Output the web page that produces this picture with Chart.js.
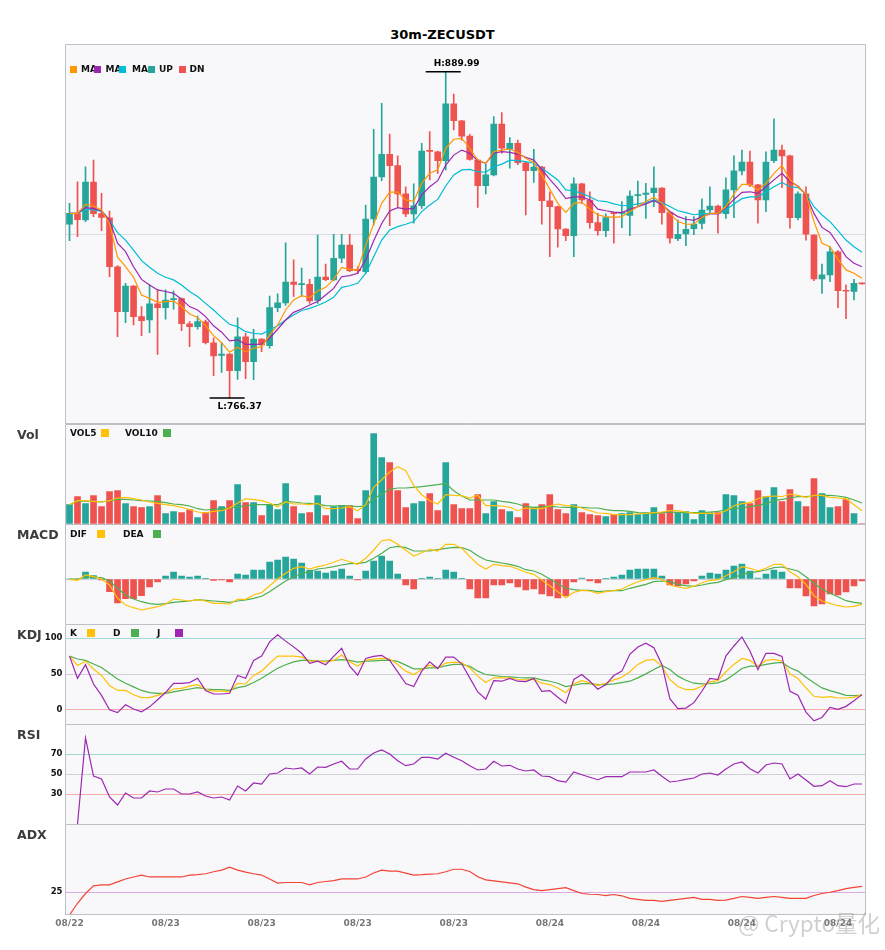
<!DOCTYPE html>
<html>
<head>
<meta charset="utf-8">
<title>30m-ZECUSDT</title>
<script src="https://cdn.jsdelivr.net/npm/chart.js@4.4.1/dist/chart.umd.min.js"></script>
<style>
  html, body { margin: 0; padding: 0; background: #fff; }
  body { position: relative; width: 885px; height: 950px; overflow: hidden; font-family: "DejaVu Sans", sans-serif; }
  canvas { position: absolute; left: 0; }
  #title { position: absolute; left: 0; top: 28px; width: 885px; text-align: center; font-size: 13px; font-weight: bold; line-height: 1; color: #000; }
  .txt { position: absolute; white-space: nowrap; font-weight: bold; line-height: 1; }
  .panel { font-size: 12.5px; color: #3c3c3c; }
  .leg { font-size: 9px; color: #111; }
  .sq { position: absolute; }
  #mark { position: absolute; left: 738px; top: 911px; font-family: "Noto Sans CJK SC", sans-serif; font-size: 22.5px; line-height: 1; color: rgba(150,150,150,0.45); white-space: nowrap; }
</style>
</head>
<body>
<div id="title">30m-ZECUSDT</div>
<canvas id="cMain" width="885" height="380" style="top:44px;width:885px;height:380px"></canvas>
<canvas id="cVol" width="885" height="100" style="top:424px;width:885px;height:100px"></canvas>
<canvas id="cMacd" width="885" height="100" style="top:524px;width:885px;height:100px"></canvas>
<canvas id="cKdj" width="885" height="100" style="top:624px;width:885px;height:100px"></canvas>
<canvas id="cRsi" width="885" height="100" style="top:724px;width:885px;height:100px"></canvas>
<canvas id="cAdx" width="885" height="108" style="top:824px;width:885px;height:108px"></canvas>
<div id="overlay"></div>
<div id="mark">@ Crypto量化</div>
<script>
// ---- data (30m candles) ----
const tickLabels = ['08/22', '08/23', '08/23', '08/23', '08/23', '08/24', '08/24', '08/24', '08/24'];
const tickStep = 12;

const open = [832.2, 836.2, 833.8, 848.2, 836.2, 834.6, 816.1, 799.1, 808.8, 797.2,
  795.9, 802.0, 800.6, 803.6, 804.0, 794.5, 793.4, 795.2, 787.3, 782.5,
  783.0, 776.7, 789.5, 780.1, 788.7, 786.2, 800.6, 802.4, 810.3, 809.3,
  809.4, 803.3, 812.2, 811.1, 819.3, 824.3, 815.1, 814.2, 834.2, 850.1,
  858.7, 854.4, 843.7, 836.1, 839.2, 860.1, 859.6, 856.3, 877.8, 871.4,
  865.6, 856.5, 846.8, 850.9, 870.2, 860.6, 862.9, 855.5, 852.5, 853.9,
  841.1, 838.9, 830.4, 827.9, 847.5, 841.4, 832.8, 829.8, 836.5, 836.3,
  835.5, 843.0, 843.5, 844.2, 845.9, 836.6, 826.7, 828.5, 830.5, 832.5,
  837.6, 839.1, 836.2, 845.2, 852.4, 855.8, 847.1, 841.4, 856.3, 860.3,
  858.1, 834.7, 843.7, 828.1, 811.5, 813.0, 821.7, 807.0, 806.7, 809.8];
const high = [840.1, 848.3, 854.0, 856.5, 843.9, 837.2, 816.5, 809.8, 809.0, 801.0,
  809.2, 807.3, 807.3, 807.0, 804.2, 795.3, 797.4, 795.9, 789.2, 787.3,
  783.2, 796.7, 790.9, 792.4, 788.9, 805.0, 805.8, 825.2, 818.7, 815.6,
  811.3, 828.1, 817.1, 828.4, 828.4, 828.4, 816.1, 839.5, 868.2, 878.0,
  866.4, 858.1, 846.4, 847.5, 862.9, 867.3, 859.9, 889.99, 881.5, 871.6,
  866.3, 856.7, 854.9, 873.0, 874.5, 865.0, 864.1, 855.7, 860.6, 854.1,
  844.5, 839.1, 830.6, 849.8, 847.7, 844.5, 836.3, 836.1, 836.6, 840.8,
  844.9, 848.6, 847.7, 854.0, 846.1, 836.8, 833.8, 835.1, 835.1, 841.8,
  846.4, 839.5, 849.8, 858.1, 860.3, 859.9, 847.3, 859.6, 872.1, 862.2,
  858.4, 844.5, 846.4, 828.3, 817.1, 823.7, 822.2, 809.2, 811.3, 809.9];
const low = [826.0, 827.5, 833.2, 835.1, 829.8, 812.3, 789.6, 794.9, 794.0, 790.0,
  791.1, 782.9, 796.2, 800.0, 791.9, 785.8, 792.4, 786.8, 774.8, 776.0,
  766.37, 773.4, 773.7, 773.3, 783.9, 785.2, 799.1, 801.4, 804.8, 804.8,
  802.2, 802.2, 810.8, 810.8, 817.6, 814.2, 813.6, 813.6, 831.9, 848.7,
  831.7, 838.9, 835.1, 832.6, 838.2, 849.0, 851.5, 852.8, 867.9, 864.1,
  856.5, 838.6, 843.7, 850.5, 859.1, 853.4, 854.8, 835.7, 848.0, 832.2,
  819.9, 823.5, 826.0, 819.9, 840.1, 830.7, 828.1, 827.5, 825.0, 830.9,
  827.9, 838.9, 834.4, 838.9, 832.2, 825.0, 826.0, 824.1, 828.2, 830.4,
  836.6, 828.8, 834.4, 834.7, 850.9, 846.4, 832.6, 837.0, 855.5, 846.1,
  830.7, 833.8, 826.2, 810.8, 806.0, 810.4, 800.6, 796.4, 803.5, 809.5];
const close = [836.3, 833.9, 848.2, 836.2, 834.8, 816.1, 799.1, 808.8, 797.2, 795.7,
  802.0, 800.6, 803.5, 804.0, 794.5, 793.4, 795.3, 787.3, 782.3, 783.0,
  776.7, 789.5, 780.1, 788.7, 786.5, 800.6, 802.4, 810.3, 809.4, 809.6,
  803.1, 812.2, 811.2, 819.3, 824.3, 814.6, 814.6, 834.2, 850.1, 858.7,
  854.4, 843.7, 836.1, 839.2, 859.9, 859.8, 856.3, 877.8, 871.4, 865.6,
  856.8, 846.8, 850.9, 870.2, 861.0, 862.9, 855.5, 852.5, 853.9, 841.1,
  838.9, 830.4, 827.9, 847.5, 841.4, 832.8, 829.8, 834.7, 836.2, 836.7,
  842.9, 843.4, 844.0, 845.9, 836.6, 826.9, 828.4, 830.3, 832.3, 837.6,
  839.1, 836.3, 845.2, 852.4, 855.8, 847.1, 841.4, 855.8, 860.3, 858.1,
  834.7, 843.7, 828.4, 811.5, 813.0, 821.7, 807.0, 806.8, 809.8, 809.6];

const ma5 = [836.3, 836.3, 839.7, 839.1, 837.6, 832.5, 819.7, 816.1, 812.1, 805.4,
  804.1, 802.6, 802.9, 803.1, 801.0, 798.2, 796.9, 793.8, 790.0, 787.3,
  783.7, 785.6, 783.9, 785.2, 785.8, 790.2, 794.0, 799.7, 803.5, 805.1,
  804.4, 806.9, 808.3, 811.3, 815.8, 815.1, 814.9, 824.3, 832.2, 840.1,
  844.4, 844.4, 841.4, 840.9, 847.7, 851.5, 852.8, 861.0, 864.4, 864.7,
  861.0, 856.5, 855.3, 859.7, 860.3, 860.7, 859.4, 857.2, 855.5, 850.9,
  845.4, 840.1, 836.7, 840.1, 840.5, 838.0, 835.7, 835.1, 834.8, 835.1,
  837.0, 838.9, 840.8, 842.4, 840.1, 836.3, 833.2, 832.2, 832.2, 834.8,
  836.3, 836.3, 838.9, 843.7, 847.3, 847.3, 845.2, 847.7, 851.5, 854.5,
  849.0, 846.4, 843.7, 833.2, 825.0, 823.7, 818.9, 814.9, 813.6, 811.7];
const ma10 = [836.3, 836.3, 838.5, 838.1, 837.3, 833.8, 825.0, 821.8, 816.1, 811.3,
  809.2, 807.3, 806.7, 806.0, 803.8, 801.0, 799.7, 797.2, 793.7, 791.3,
  788.0, 788.4, 786.7, 786.7, 786.8, 789.0, 792.4, 795.9, 798.8, 800.1,
  801.6, 802.9, 805.4, 807.9, 812.3, 812.7, 813.6, 818.7, 825.9, 832.5,
  837.2, 838.5, 837.9, 838.2, 843.3, 846.4, 848.7, 854.6, 858.4, 860.3,
  859.1, 856.3, 855.3, 859.1, 859.7, 859.4, 858.8, 857.6, 856.5, 853.0,
  849.2, 845.8, 841.9, 842.6, 842.6, 841.4, 837.9, 837.3, 836.8, 836.6,
  837.9, 838.9, 839.9, 841.1, 839.7, 837.0, 835.1, 834.1, 833.7, 835.1,
  836.1, 836.1, 838.5, 841.6, 844.3, 844.5, 843.9, 846.4, 849.0, 851.5,
  848.3, 846.7, 843.3, 836.3, 831.0, 829.1, 824.7, 819.9, 817.4, 816.1];
const ma20 = [836.3, 836.3, 837.9, 837.6, 837.1, 833.8, 829.0, 826.2, 822.4, 818.4,
  815.9, 813.6, 812.1, 811.1, 809.2, 806.7, 804.8, 802.2, 799.7, 796.9,
  794.3, 793.4, 791.5, 790.9, 790.6, 792.1, 793.7, 795.9, 797.8, 799.5,
  800.3, 801.4, 802.7, 804.5, 808.3, 808.9, 809.8, 813.6, 819.9, 826.2,
  830.0, 831.3, 832.2, 833.2, 837.0, 839.5, 841.6, 846.7, 850.9, 852.8,
  853.0, 852.1, 851.9, 854.0, 855.0, 856.5, 856.3, 855.9, 855.3, 853.4,
  851.2, 849.0, 845.2, 844.9, 843.9, 842.6, 841.1, 840.8, 839.9, 839.2,
  839.4, 839.9, 840.4, 841.4, 840.4, 838.9, 837.3, 836.6, 835.8, 836.1,
  836.3, 836.3, 837.6, 839.9, 841.9, 842.6, 842.6, 844.5, 846.4, 848.0,
  846.4, 846.1, 843.7, 838.9, 835.7, 833.2, 829.8, 826.2, 823.7, 821.6];

const vol = [19.3, 27.3, 20.3, 28.3, 17.3, 32.3, 33.3, 20.3, 17.3, 16.3,
  17.3, 28.3, 10.3, 12.3, 11.3, 14.3, 6.3, 11.3, 23.3, 17.3,
  23.3, 39.3, 21.3, 21.3, 8.3, 19.3, 14.3, 40.3, 17.3, 10.3,
  11.3, 28.3, 8.5, 17.3, 18.3, 18.3, 5.3, 33.3, 90.3, 66.3,
  61.3, 33.3, 16.3, 20.3, 22.3, 30.3, 13.3, 61.3, 19.3, 15.3,
  15.3, 29.3, 10.3, 22.3, 14.3, 12.3, 6.3, 20.3, 16.3, 19.3,
  29.3, 14.3, 10.3, 19.3, 11.3, 9.3, 8.3, 7.3, 9.3, 10.3,
  11.3, 9.3, 11.3, 16.3, 10.3, 19.3, 11.3, 12.3, 4.3, 13.3,
  11.3, 11.3, 29.3, 28.3, 22.3, 20.3, 33.3, 27.3, 36.3, 22.3,
  34.3, 22.3, 17.3, 45.3, 30.3, 16.3, 17.3, 24.3, 10.3, 0.5];
const vol5 = [19.3, 23.3, 23.3, 22.7, 22.0, 23.3, 26.0, 26.7, 25.3, 24.0,
  22.0, 20.7, 19.3, 18.3, 16.7, 14.3, 12.0, 11.0, 12.7, 13.3,
  16.0, 21.0, 25.3, 24.3, 23.3, 21.0, 17.3, 22.0, 20.0, 20.0,
  19.3, 20.7, 15.3, 15.3, 16.0, 17.3, 13.3, 19.3, 36.7, 44.3,
  52.0, 57.3, 53.3, 38.7, 29.3, 23.3, 20.0, 29.3, 28.7, 28.3,
  26.0, 28.7, 18.3, 18.3, 18.0, 16.7, 13.3, 16.0, 15.3, 15.3,
  18.0, 20.0, 18.3, 18.0, 16.0, 13.3, 11.0, 10.7, 9.3, 9.3,
  9.3, 10.0, 10.7, 11.3, 12.0, 13.3, 13.3, 12.0, 10.7, 10.7,
  10.7, 10.0, 13.3, 18.3, 20.3, 21.3, 25.3, 27.3, 28.0, 27.3,
  30.0, 28.7, 26.7, 28.7, 28.7, 26.7, 26.0, 25.3, 19.3, 13.3];
const vol10 = [19.3, 22.7, 23.0, 22.7, 22.0, 23.3, 24.7, 24.7, 24.0, 23.3,
  23.0, 22.7, 21.3, 20.0, 19.3, 18.0, 15.3, 14.0, 14.7, 15.3,
  16.0, 17.3, 18.0, 19.3, 19.3, 19.3, 19.3, 22.7, 22.0, 21.0,
  20.7, 20.0, 18.3, 18.0, 18.3, 18.0, 17.3, 18.0, 25.3, 30.0,
  34.7, 36.0, 36.0, 36.7, 37.3, 38.3, 39.3, 40.7, 33.3, 28.0,
  24.0, 24.0, 24.0, 24.0, 22.7, 21.7, 20.0, 17.3, 16.7, 17.3,
  17.7, 17.0, 16.7, 16.7, 16.7, 16.0, 16.0, 14.3, 13.3, 13.3,
  12.7, 11.3, 10.7, 10.7, 11.3, 12.0, 11.7, 11.3, 11.3, 11.3,
  12.0, 12.7, 14.0, 15.3, 16.0, 17.3, 18.7, 20.3, 23.3, 24.7,
  26.0, 27.3, 27.3, 28.0, 28.7, 28.7, 28.0, 26.7, 24.0, 21.0];

const macd = [0, 0, 7, 3.3, -1, -12.7, -24, -19.7, -19.7, -16.7,
  -8, -3, 3, 7, 3, 2, 3, 0.3, -1.3, -1,
  -3, 5, 4, 9, 9, 17, 19, 22, 20, 16,
  9, 8, 6, 8, 10, 3, -1, 8, 18, 23,
  18, 5, -6, -10, 0.3, 2, 0.3, 9, 7, 0.3,
  -10, -19, -19, -6, -6, -4, -8, -11, -10, -15,
  -17, -19, -17, -3, 1, -2, -4, 0.3, 2, 4,
  9, 10, 10, 10, 3, -6, -7, -5, -2, 3,
  6, 5, 9, 13, 15, 8, 1, 5, 9, 7,
  -9, -9, -17, -27, -25, -15, -16, -13, -7, -2];
const dif = [-0.3, -1.3, 4.0, 2.3, 0, -6.0, -19.3, -26.0, -28.7, -31.0,
  -29.3, -27.7, -25.3, -20.0, -21.0, -22.0, -20.7, -22.0, -24.3, -24.3,
  -25.0, -20.3, -20.3, -16.0, -13.7, -6.7, 0, 5.7, 10.7, 12.3,
  10.0, 12.3, 14.0, 16.7, 19.7, 17.3, 14.7, 20.7, 29.0, 38.3,
  39.3, 34.7, 28.7, 23.0, 26.3, 29.7, 28.0, 34.7, 34.7, 30.7,
  22.3, 14.7, 10.0, 14.7, 13.3, 12.7, 10.0, 6.7, 4.7, -1.0,
  -6.7, -12.7, -18.7, -13.3, -11.3, -12.0, -14.3, -12.7, -11.7, -10.0,
  -6.0, -2.7, -0.7, 1.3, 0, -6.0, -8.0, -9.3, -7.3, -3.7,
  -1.3, -0.7, 3.3, 7.3, 12.3, 10.7, 8.3, 10.7, 14.7, 14.7,
  7.3, 2.3, -5.3, -16.7, -22.0, -24.3, -26.7, -28.0, -27.3, -25.3];
const dea = [0, 0, 2.0, 1.7, 1.3, -2.0, -9.3, -16.0, -20.0, -22.7,
  -24.7, -25.3, -24.7, -23.3, -22.7, -22.0, -20.7, -21.3, -22.0, -22.7,
  -23.3, -22.0, -21.0, -19.3, -17.3, -12.7, -7.3, -2.0, 2.3, 5.7,
  7.3, 10.0, 11.0, 12.3, 14.0, 15.3, 15.7, 16.7, 20.7, 25.7,
  31.3, 32.7, 31.3, 28.0, 28.0, 28.0, 29.3, 30.7, 31.7, 31.3,
  28.7, 23.3, 19.0, 17.3, 16.0, 14.7, 12.7, 9.3, 8.0, 4.7,
  0, -4.7, -9.3, -10.7, -11.3, -11.3, -12.7, -12.0, -11.7, -11.7,
  -9.3, -7.3, -5.3, -2.7, -2.0, -2.7, -5.3, -6.7, -7.3, -6.0,
  -4.3, -3.3, -0.7, 1.3, 4.7, 6.3, 7.3, 9.0, 11.3, 12.0,
  10.0, 8.0, 2.3, -4.3, -10.0, -14.3, -17.7, -21.7, -23.3, -24.3];

const kLine = [75, 62, 68, 57, 48, 34, 27, 27, 21, 17,
  17, 20, 24, 29, 30, 33, 35, 28, 26, 26,
  25, 37, 36, 48, 54, 65, 75, 75, 75, 74,
  68, 68, 67, 69.0, 76.5, 67.1, 61.0, 69.0, 70.9, 71.8,
  70.9, 63.4, 54.0, 49.3, 56.3, 62.4, 58.7, 65.3, 66.7, 65.7,
  58.7, 47.0, 38.0, 44.6, 44.6, 44.6, 42.3, 41.8, 42.7, 37.1,
  35.2, 30.5, 23.9, 36.2, 40.8, 37.6, 34.0, 37.1, 41.8, 45.5,
  53.1, 63.4, 69.0, 70.4, 61.0, 42.3, 32.4, 28.2, 28.2, 32.9,
  39.0, 40.8, 53.1, 63.4, 71.8, 69.0, 61.0, 69.0, 70.4, 68.1,
  50.2, 43.7, 30.5, 18.8, 17.4, 18.3, 16.4, 16.4, 17.4, 21.1];
const dLine = [75, 71, 69, 64, 59, 51, 43, 37, 32, 27,
  24, 23, 23, 25, 27, 29, 31, 29, 28, 28,
  27, 31, 33, 38, 44, 51, 58, 63, 67, 69,
  69, 68, 68, 69.0, 70.0, 69.0, 66.7, 68.1, 68.5, 69.0,
  69.0, 67.6, 62.4, 57.3, 57.3, 58.7, 58.7, 61.5, 63.4, 63.4,
  60.6, 54.0, 49.3, 47.9, 46.5, 46.0, 45.1, 44.6, 44.6, 41.8,
  39.9, 37.1, 32.4, 34.3, 36.6, 36.6, 35.2, 35.2, 36.2, 38.0,
  39.9, 44.6, 50.2, 56.3, 62.0, 56.3, 47.0, 41.3, 37.1, 36.2,
  36.6, 37.6, 41.8, 49.3, 57.7, 61.0, 61.0, 63.4, 65.3, 66.2,
  58.7, 54.0, 45.5, 37.6, 30.5, 26.8, 23.5, 20.2, 19.7, 20.2];
const jLine = [75, 44, 63, 36, 20, 0, -4, 7, 1, -3,
  4, 14, 24, 37, 37, 38, 44, 27, 22, 22,
  23, 48, 44, 69, 75, 95, 105, 96, 88, 79,
  65, 68, 63, 74.7, 85.9, 61.0, 48.4, 71.8, 74.7, 76.1,
  69.0, 53.1, 36.6, 32.4, 54.0, 67.1, 57.7, 73.7, 73.7, 64.3,
  44.6, 24.9, 14.6, 40.8, 39.9, 43.7, 39.9, 39.4, 43.7, 25.8,
  26.8, 17.4, 8.9, 42.3, 49.3, 39.9, 28.6, 35.2, 47.9, 54.0,
  77.5, 87.8, 93.0, 86.9, 63.4, 15.5, 1.4, 2.3, 9.9, 25.8,
  43.7, 42.3, 75.1, 89.2, 101.9, 82.2, 56.3, 78.9, 78.9, 74.7,
  25.8, 20.2, -3.3, -15.5, -10.8, 3.3, 0.5, 4.7, 12.7, 21.1];

const rsi = [null, 0, 86, 48, 45, 27, 19, 31, 26, 26,
  33, 32, 35, 35, 30, 30, 32, 28, 26, 27,
  24, 38, 33, 41, 40, 50, 51, 56, 55, 56,
  50, 57, 56.7, 60, 62.7, 55, 55, 65, 71, 74,
  70, 63.3, 58.3, 60, 66.7, 66.7, 65, 70.7, 66.7, 63.3,
  58.3, 54, 55, 62.7, 58, 58.7, 55, 53, 54, 48,
  47.3, 43.3, 42, 52, 49.3, 46.7, 44.3, 47.3, 47.3, 47.3,
  52, 52, 52, 54, 47.7, 42, 43, 44.7, 46, 50,
  51, 49, 55, 60, 62, 55.3, 51, 59, 61, 60,
  45, 50, 44, 37.7, 38.3, 43.3, 38.3, 37.3, 40, 40];
const adx = [0, 12.9, 23.6, 32.1, 33.2, 33.2, 36.4, 39.6, 41.8, 43.9,
  41.8, 41.8, 41.8, 41.8, 41.8, 43.9, 44.3, 45.3, 47.5, 49.3,
  52.5, 49.3, 47.1, 45.3, 43.9, 39.6, 35.0, 35.7, 35.7, 35.7,
  33.2, 35.7, 36.8, 37.8, 39.6, 39.6, 39.6, 41.8, 46.1, 49.3,
  48.2, 48.2, 46.1, 43.9, 44.3, 45.0, 45.3, 47.5, 50.3, 50.3,
  47.8, 42.1, 38.6, 37.5, 36.4, 35.3, 34.3, 30.7, 27.9, 26.8,
  27.9, 28.9, 30.0, 26.8, 23.6, 22.8, 22.5, 21.4, 22.5, 21.1,
  18.2, 17.1, 16.1, 16.1, 15.0, 16.1, 17.1, 18.2, 19.3, 17.1,
  17.1, 16.1, 16.4, 18.2, 20.3, 19.3, 18.2, 19.3, 20.3, 19.3,
  18.2, 18.2, 18.2, 21.4, 23.6, 25.0, 26.8, 28.9, 30.3, 31.4];

// ---- styling ----
const FONT = '"DejaVu Sans", sans-serif';
const UP = '#26a69a', DN = '#ef5350';
const C_MA5 = '#ff9800', C_MA10 = '#9c27b0', C_MA20 = '#00bcd4';
const C_YEL = '#ffc107', C_GRN = '#4caf50', C_PUR = '#9c27b0', C_ADX = '#f44336';
const L_TEAL = '#9fd8d4', L_GREY = '#cfcfd5', L_PINK = '#f6abab', L_LILAC = '#dcaae6';

Chart.defaults.font.family = FONT;

const cats = close.map((_, i) => i);
const dirColor = close.map((c, i) => c >= open[i] ? UP : DN);

const framePlugin = {
  id: 'frame',
  beforeDraw(chart) {
    const a = chart.chartArea, ctx = chart.ctx;
    ctx.save();
    ctx.fillStyle = '#f8f8fa';
    ctx.fillRect(a.left, a.top, a.right - a.left, a.bottom - a.top);
    ctx.restore();
  },
  afterDraw(chart, args, opts) {
    const a = chart.chartArea, ctx = chart.ctx;
    ctx.save();
    ctx.strokeStyle = '#bfbfc7';
    ctx.lineWidth = 1;
    ctx.beginPath();
    if (opts.bottom) {
      ctx.moveTo(a.left, a.bottom - 0.5);
      ctx.lineTo(a.right - 0.5, a.bottom - 0.5);
    }
    ctx.moveTo(a.left, a.bottom);
    ctx.lineTo(a.left, a.top + 0.5);
    ctx.lineTo(a.right - 0.5, a.top + 0.5);
    ctx.lineTo(a.right - 0.5, a.bottom);
    ctx.stroke();
    ctx.restore();
  }
};

// H / L markers on the price panel
const hlPlugin = {
  id: 'hl',
  afterDatasetsDraw(chart) {
    const { ctx, scales: { x, y } } = chart;
    const hi = high.indexOf(Math.max(...high));
    const lo = low.indexOf(Math.min(...low));
    ctx.save();
    ctx.strokeStyle = '#000';
    ctx.fillStyle = '#000';
    ctx.lineWidth = 1.5;
    ctx.font = 'bold 9px ' + FONT;
    [[hi, high[hi], 'H:', -1], [lo, low[lo], 'L:', 1]].forEach(([i, v, p, s]) => {
      const px = x.getPixelForValue(i), py = y.getPixelForValue(v);
      ctx.beginPath();
      ctx.moveTo(px - 20, py);
      ctx.lineTo(px + 15, py);
      ctx.stroke();
      ctx.textBaseline = s < 0 ? 'bottom' : 'top';
      ctx.fillText(p + v.toFixed(2), px - 12, py + s * 4);
    });
    ctx.restore();
  }
};

function panelOptions(cfg) {
  const x = {
    type: 'category', offset: true, display: !!cfg.showX,
    grid: { display: false, drawTicks: false }, border: { display: false },
    ticks: {
      autoSkip: false, maxRotation: 0, padding: 3, color: '#777',
      font: { size: 9, weight: 'bold' },
      callback: (v, i) => i % tickStep === 0 ? tickLabels[i / tickStep] : ''
    }
  };
  if (cfg.showX) x.afterFit = s => { s.height = 17; };
  return {
    responsive: false,
    animation: false,
    events: [],
    layout: { padding: { left: 0, right: 19, top: 0, bottom: 0 } },
    plugins: { legend: { display: false }, tooltip: { enabled: false }, frame: { bottom: !!cfg.bottom } },
    scales: {
      x,
      y: {
        min: cfg.min, max: cfg.max,
        border: { display: false },
        grid: { drawTicks: false, lineWidth: 1, color: c => (cfg.lines.find(l => l[0] === c.tick.value) || [0, 'transparent'])[1] },
        ticks: { display: !!cfg.showY, padding: 3, color: '#111', font: { size: 8.5, weight: 'bold' } },
        afterBuildTicks: s => { s.ticks = cfg.lines.map(l => ({ value: l[0] })); },
        afterFit: s => { s.width = 65.5; s.paddingTop = 0; s.paddingBottom = 0; }
      }
    }
  };
}

function line(label, data, color, order) {
  return { type: 'line', label, data, borderColor: color, backgroundColor: color, borderWidth: 1.2,
    pointRadius: 0, tension: 0, fill: false, order, spanGaps: true };
}

// price panel
const yMin = 756.5, yMax = 900.5;
new Chart(document.getElementById('cMain'), {
  data: {
    labels: cats,
    datasets: [
      line('MA5', ma5, C_MA5, 0),
      line('MA10', ma10, C_MA10, 1),
      line('MA20', ma20, C_MA20, 2),
      { type: 'bar', label: 'body', data: open.map((o, i) => [o, close[i]]), backgroundColor: dirColor,
        barThickness: 6, minBarLength: 1, grouped: false, order: 3 },
      { type: 'bar', label: 'wick', data: low.map((l, i) => [l, high[i]]), backgroundColor: dirColor,
        barThickness: 1, grouped: false, order: 4 }
    ]
  },
  options: panelOptions({ min: yMin, max: yMax, lines: [[(yMin + yMax) / 2, '#dcdce0']], bottom: true }),
  plugins: [framePlugin, hlPlugin]
});

// volume
new Chart(document.getElementById('cVol'), {
  data: {
    labels: cats,
    datasets: [
      line('VOL5', vol5, C_YEL, 0),
      line('VOL10', vol10, C_GRN, 1),
      { type: 'bar', label: 'Vol', data: vol, backgroundColor: dirColor, barThickness: 6, grouped: false, order: 2 }
    ]
  },
  options: panelOptions({ min: 0, max: 100, lines: [[0, 'transparent']] }),
  plugins: [framePlugin]
});

// MACD
new Chart(document.getElementById('cMacd'), {
  data: {
    labels: cats,
    datasets: [
      line('DIF', dif, C_YEL, 0),
      line('DEA', dea, C_GRN, 1),
      { type: 'bar', label: 'MACD', data: macd, backgroundColor: macd.map(v => v >= 0 ? UP : DN),
        barThickness: 6, grouped: false, order: 2 }
    ]
  },
  options: panelOptions({ min: -45, max: 55, lines: [[0, L_GREY]] }),
  plugins: [framePlugin]
});

// KDJ
new Chart(document.getElementById('cKdj'), {
  data: {
    labels: cats,
    datasets: [line('J', jLine, C_PUR, 0), line('K', kLine, C_YEL, 1), line('D', dLine, C_GRN, 2)]
  },
  options: panelOptions({ min: -20, max: 120, showY: true, lines: [[0, L_PINK], [50, L_GREY], [100, L_TEAL]] }),
  plugins: [framePlugin]
});

// RSI
new Chart(document.getElementById('cRsi'), {
  data: { labels: cats, datasets: [line('RSI', rsi, C_PUR, 0)] },
  options: panelOptions({ min: 0, max: 100, showY: true, lines: [[30, L_PINK], [50, L_GREY], [70, L_TEAL]] }),
  plugins: [framePlugin]
});

// ADX
new Chart(document.getElementById('cAdx'), {
  data: { labels: cats, datasets: [line('ADX', adx, C_ADX, 0)] },
  options: panelOptions({ min: 0, max: 100, showY: true, showX: true, bottom: true, lines: [[25, L_LILAC]] }),
  plugins: [framePlugin]
});

// ---- panel names and legends ----
const overlay = document.getElementById('overlay');
function addText(text, left, top, cls) {
  const d = document.createElement('div');
  d.className = 'txt ' + cls;
  d.textContent = text;
  d.style.left = left + 'px';
  d.style.top = top + 'px';
  overlay.appendChild(d);
}
function addSquare(color, left, top, size) {
  const d = document.createElement('div');
  d.className = 'sq';
  Object.assign(d.style, { left: left + 'px', top: top + 'px', width: size + 'px', height: size + 'px', background: color });
  overlay.appendChild(d);
}

[['Vol', 429], ['MACD', 529], ['KDJ', 629.3], ['RSI', 729.3], ['ADX', 829]].forEach(([t, y]) => addText(t, 17, y, 'panel'));

// price legend (labels partly covered by the next swatch, as in the original)
[['MA', C_MA5, 70, 81], ['MA', C_MA10, 93.5, 105.5], ['MA', C_MA20, 118.5, 132], ['UP', UP, 148, 159], ['DN', DN, 179, 189.5]]
  .forEach(([t, c, sx, tx]) => { addText(t, tx, 64.8, 'leg'); addSquare(c, sx, 65.7, 7); });

const subLegends = [
  [[['VOL5', 70, C_YEL, 101], ['VOL10', 125, C_GRN, 163]], 429, 429],
  [[['DIF', 70, C_YEL, 97], ['DEA', 123, C_GRN, 153]], 530, 529.5],
  [[['K', 70, C_YEL, 87], ['D', 113, C_GRN, 131], ['J', 157, C_PUR, 175]], 629.4, 629.3]
];
subLegends.forEach(([items, ty, sy]) => items.forEach(([t, tx, c, sx]) => { addText(t, tx, ty, 'leg'); addSquare(c, sx, sy, 8); }));
</script>
</body>
</html>
